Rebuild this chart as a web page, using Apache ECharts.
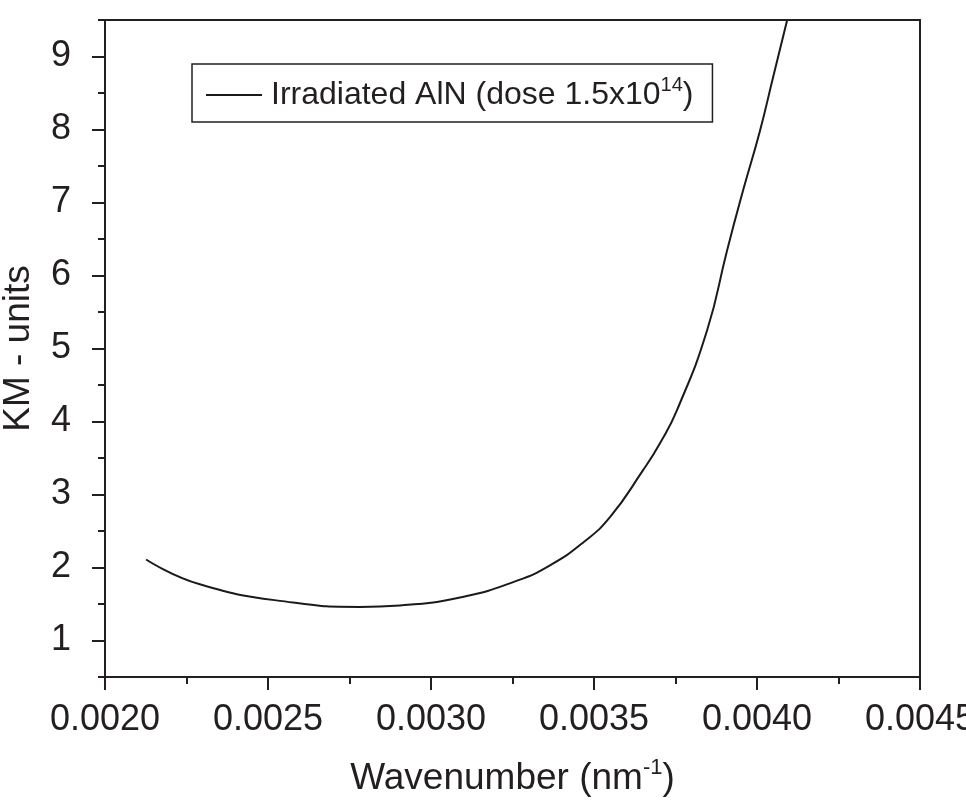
<html>
<head>
    <meta charset="utf-8">
    <title>KM - units</title>
    <script src="https://cdn.jsdelivr.net/npm/echarts@6.0.0/dist/echarts.min.js"></script>
    <style>
        html, body { margin: 0; padding: 0; background: #fff; }
        #main { width: 966px; height: 807px; }
    </style>
</head>
<body>
<div id="main"></div>
<script>
    // values
    var wavenumber = [0.002126, 0.002291, 0.002577, 0.002782, 0.002905, 0.003100,
        0.003264, 0.003365, 0.003466, 0.003549, 0.003650, 0.003702, 0.003755,
        0.003847, 0.003908, 0.003957, 0.004009, 0.004049, 0.004092]
    var kmUnits = [2.11, 1.77, 1.52, 1.46, 1.48, 1.60,
        1.82, 2.03, 2.34, 2.69, 3.33, 3.70, 4.16,
        5.25, 6.34, 7.16, 7.98, 8.71, 9.49]
    var seriesName = 'Irradiated AlN (dose 1.5x10^14)'

    var ink = '#231f20'
    var font = 'Liberation Sans, Arial, sans-serif'

    var points = wavenumber.map(function (x, i) { return [x, kmUnits[i]] })

    var myChart = echarts.init(document.getElementById('main'))

    myChart.setOption({
        backgroundColor: '#fff',
        animation: false,
        grid: { left: 105, right: 46, top: 20, bottom: 130, containLabel: false, outerBoundsMode: 'none' },
        legend: {
            left: 192,
            top: 64,
            orient: 'horizontal',
            borderColor: ink,
            borderWidth: 1.5,
            padding: [11, 19, 11, 14],
            itemWidth: 56,
            itemHeight: 2,
            itemGap: 0,
            icon: 'rect',
            data: [seriesName],
            formatter: function () {
                return '{f|Irradiated AlN (dose 1.5x10}{s|14}{n|)}'
            },
            textStyle: {
                color: ink,
                fontFamily: font,
                rich: {
                    f: { fontSize: 32, fontFamily: font, color: ink, lineHeight: 40, padding: [0, 0, 0, 4] },
                    n: { fontSize: 32, fontFamily: font, color: ink, lineHeight: 40 },
                    s: { fontSize: 20, fontFamily: font, color: ink, verticalAlign: 'top', lineHeight: 40 }
                }
            }
        },
        xAxis: [
            {
                type: 'value',
                min: 0.002,
                max: 0.0045,
                interval: 0.0005,
                name: '{n|Wavenumber (nm}{s|-1}{n|)}',
                nameLocation: 'middle',
                nameGap: 80,
                nameTextStyle: {
                    rich: {
                        n: { fontSize: 37, fontFamily: font, color: ink, lineHeight: 44 },
                        s: { fontSize: 22, fontFamily: font, color: ink, verticalAlign: 'top', lineHeight: 44 }
                    }
                },
                axisLine: { show: true, onZero: false, lineStyle: { color: ink, width: 2 } },
                axisTick: { show: true, length: 13, lineStyle: { color: ink, width: 2 } },
                minorTick: { show: true, splitNumber: 2, length: 7, lineStyle: { color: ink, width: 2 } },
                splitLine: { show: false },
                minorSplitLine: { show: false },
                axisLabel: {
                    margin: 25,
                    fontSize: 36,
                    fontFamily: font,
                    color: ink,
                    formatter: function (v) { return v.toFixed(4) }
                }
            },
            {
                type: 'value',
                position: 'top',
                min: 0.002,
                max: 0.0045,
                axisLine: { show: true, onZero: false, lineStyle: { color: ink, width: 2 } },
                axisTick: { show: false },
                axisLabel: { show: false },
                splitLine: { show: false }
            }
        ],
        yAxis: [
            {
                // ticks: short ones on the halves, long minor ones on the integers
                type: 'value',
                position: 'left',
                min: 0.5,
                max: 9.5,
                interval: 1,
                axisLine: { show: true, onZero: false, lineStyle: { color: ink, width: 2 } },
                axisTick: { show: true, length: 7, lineStyle: { color: ink, width: 2 } },
                minorTick: { show: true, splitNumber: 2, length: 13, lineStyle: { color: ink, width: 2 } },
                axisLabel: { show: false },
                splitLine: { show: false },
                minorSplitLine: { show: false }
            },
            {
                // labels on the integers
                type: 'value',
                position: 'left',
                min: 0.5,
                max: 9.5,
                interval: 0.5,
                name: 'KM - units',
                nameLocation: 'middle',
                nameGap: 68,
                nameTextStyle: { fontSize: 37, fontFamily: font, color: ink },
                axisLine: { show: false },
                axisTick: { show: false },
                splitLine: { show: false },
                axisLabel: {
                    margin: 34,
                    fontSize: 36,
                    fontFamily: font,
                    color: ink,
                    formatter: function (v) {
                        var r = Math.round(v * 10) / 10
                        return Number.isInteger(r) ? String(r) : ''
                    }
                }
            },
            {
                type: 'value',
                position: 'right',
                min: 0.5,
                max: 9.5,
                axisLine: { show: true, onZero: false, lineStyle: { color: ink, width: 2 } },
                axisTick: { show: false },
                axisLabel: { show: false },
                splitLine: { show: false }
            }
        ],
        series: [
            {
                name: seriesName,
                type: 'line',
                data: points,
                xAxisIndex: 0,
                yAxisIndex: 0,
                smooth: 0.5,
                symbol: 'none',
                clip: true,
                lineStyle: { color: '#1a1a1a', width: 2 },
                itemStyle: { color: '#1a1a1a' }
            }
        ]
    })
</script>
</body>
</html>
